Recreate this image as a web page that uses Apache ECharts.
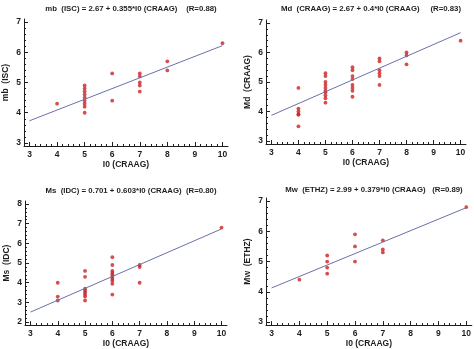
<!DOCTYPE html>
<html>
<head>
<meta charset="utf-8">
<script src="https://cdn.jsdelivr.net/npm/echarts@6/dist/echarts.min.js"></script>
<style>
  html, body { margin: 0; padding: 0; background: #fff; }
  #chart { width: 474px; height: 349px; }
</style>
</head>
<body>
<div id="chart"></div>
<script>
  // I0 (CRAAG) against each magnitude scale
  var mbX = [4, 5, 5, 5, 5, 5, 5, 5, 5, 5, 6, 6, 7, 7, 7, 7, 7, 8, 8, 10];
  var mbY = [4.3, 4.9, 4.8, 4.7, 4.6, 4.5, 4.4, 4.3, 4.2, 4.0, 5.3, 4.4, 5.3, 5.2, 5.0, 4.9, 4.7, 5.7, 5.4, 6.3];

  var mdX = [4, 4, 4, 4, 4, 4,
             5, 5, 5, 5, 5, 5, 5, 5, 5, 5,
             6, 6, 6, 6, 6, 6, 6, 6,
             7, 7, 7, 7, 7, 7,
             8, 8, 8, 10];
  var mdY = [4.8, 4.1, 4.0, 3.9, 3.9, 3.5,
             5.3, 5.2, 5.0, 4.9, 4.8, 4.7, 4.65, 4.55, 4.45, 4.3,
             5.5, 5.4, 5.2, 5.1, 4.9, 4.8, 4.7, 4.5,
             5.8, 5.7, 5.4, 5.3, 5.2, 4.9,
             6.0, 5.9, 5.6, 6.4];

  var msX = [4, 4, 4,
             5, 5, 5, 5, 5, 5, 5, 5,
             6, 6, 6, 6, 6, 6, 6, 6, 6, 6,
             7, 7, 7, 10];
  var msY = [4.0, 3.3, 3.1,
             4.6, 4.3, 3.7, 3.6, 3.5, 3.4, 3.3, 3.1,
             5.3, 4.9, 4.6, 4.5, 4.4, 4.3, 4.2, 4.1, 3.95, 3.4,
             4.9, 4.8, 4.0, 6.8];

  var mwX = [4, 5, 5, 5, 5, 6, 6, 6, 7, 7, 7, 10];
  var mwY = [4.4, 5.2, 5.0, 4.8, 4.6, 5.9, 5.5, 5.0, 5.7, 5.4, 5.3, 6.8];

  // regression coefficients as printed in each heading
  var intercepts = [2.67, 2.67, 0.701, 2.99];
  var slopes = [0.355, 0.4, 0.603, 0.379];

  var titles = [
    'mb  (ISC) = 2.67 + 0.355*I0 (CRAAG)    (R=0.88)',
    'Md  (CRAAG) = 2.67 + 0.4*I0 (CRAAG)     (R=0.83)',
    'Ms  (IDC) = 0.701 + 0.603*I0 (CRAAG)  (R=0.80)',
    'Mw  (ETHZ) = 2.99 + 0.379*I0 (CRAAG)   (R=0.89)'
  ];
  var yNames = ['mb  (ISC)', 'Md  (CRAAG)', 'Ms  (IDC)', 'Mw  (ETHZ)'];
  var xTicks = [3, 4, 5, 6, 7, 8, 9, 10];
  var yTicks = [
    [3, 4, 5, 6, 7],
    [3, 4, 5, 6, 7],
    [2, 3, 4, 5, 6, 7, 8],
    [3, 4, 5, 6, 7]
  ];

  var xs = [mbX, mdX, msX, mwX];
  var ys = [mbY, mdY, msY, mwY];

  var grids = [
    { left: 24, top: 19, width: 204, height: 127 },
    { left: 266, top: 20, width: 200, height: 124 },
    { left: 25, top: 201, width: 202, height: 128 },
    { left: 266, top: 198, width: 206, height: 131 }
  ];
  var titleTops = [0, 0, 182, 181];

  var ink = '#1e1e1e';
  var font = 'Liberation Sans, Arial, sans-serif';

  function minors(ticks, step) {
    var out = [];
    for (var i = 0; i < ticks.length - 1; i++) {
      for (var k = 1; k < 5; k++) out.push(+(ticks[i] + k * step).toFixed(2));
    }
    return out;
  }

  var option = {
    backgroundColor: '#fff',
    animation: false,
    title: [],
    grid: [],
    xAxis: [],
    yAxis: [],
    series: []
  };

  for (var p = 0; p < 4; p++) {
    var g = grids[p];
    var yt = yTicks[p];
    var ySpan = yt[yt.length - 1] - yt[0];
    var yPad = ySpan > 4 ? 0.15 : 0.1;

    option.title.push({
      text: titles[p],
      left: g.left + g.width / 2,
      top: titleTops[p],
      textAlign: 'center',
      textStyle: { fontSize: 7.8, fontWeight: 'bold', color: ink, fontFamily: font }
    });
    option.grid.push({ left: g.left, top: g.top, width: g.width, height: g.height });

    // main axes: line, labels, major ticks
    option.xAxis.push({
      type: 'value', gridIndex: p, min: 2.8, max: 10.2,
      name: 'I0 (CRAAG)', nameLocation: 'middle', nameGap: 13,
      nameTextStyle: { fontSize: 8.5, fontWeight: 'bold', color: ink, fontFamily: font },
      axisLine: { show: true, onZero: false, lineStyle: { color: ink, width: 1 } },
      axisTick: { show: true, inside: true, length: 4, customValues: xTicks, lineStyle: { color: ink } },
      axisLabel: { customValues: xTicks, margin: 4, fontSize: 8.5, fontWeight: 'bold', color: ink, fontFamily: font },
      splitLine: { show: false }
    });
    option.yAxis.push({
      type: 'value', gridIndex: p, min: yt[0] - yPad, max: yt[yt.length - 1] + yPad,
      name: yNames[p], nameLocation: 'middle', nameGap: 14,
      nameTextStyle: { fontSize: 8.5, fontWeight: 'bold', color: ink, fontFamily: font },
      axisLine: { show: true, onZero: false, lineStyle: { color: ink, width: 1 } },
      axisTick: { show: true, inside: true, length: 4, customValues: yt, lineStyle: { color: ink } },
      axisLabel: { customValues: yt, margin: 3, fontSize: 8.5, fontWeight: 'bold', color: ink, fontFamily: font },
      splitLine: { show: false }
    });
    // overlay axes carrying the minor ticks only
    option.xAxis.push({
      type: 'value', gridIndex: p, position: 'bottom', min: 2.8, max: 10.2,
      axisLine: { show: false },
      axisTick: { show: true, inside: true, length: 2, customValues: minors(xTicks, 0.2), lineStyle: { color: ink } },
      axisLabel: { show: false }, splitLine: { show: false }
    });
    option.yAxis.push({
      type: 'value', gridIndex: p, position: 'left', min: yt[0] - yPad, max: yt[yt.length - 1] + yPad,
      axisLine: { show: false },
      axisTick: { show: true, inside: true, length: 2, customValues: minors(yt, 0.2), lineStyle: { color: ink } },
      axisLabel: { show: false }, splitLine: { show: false }
    });

    var pts = xs[p].map(function (x, i) { return [x, ys[p][i]]; });
    var a = intercepts[p], b = slopes[p];

    option.series.push({
      type: 'line', xAxisIndex: p * 2, yAxisIndex: p * 2,
      data: [[3, a + b * 3], [10, a + b * 10]],
      showSymbol: false, silent: true,
      lineStyle: { color: '#6a72a8', width: 1 }
    });
    option.series.push({
      type: 'scatter', xAxisIndex: p * 2, yAxisIndex: p * 2,
      data: pts, symbol: 'circle', symbolSize: 3.8,
      itemStyle: { color: '#cc2222' }
    });
  }

  var myChart = echarts.init(document.getElementById('chart'));
  myChart.setOption(option);
</script>
</body>
</html>
